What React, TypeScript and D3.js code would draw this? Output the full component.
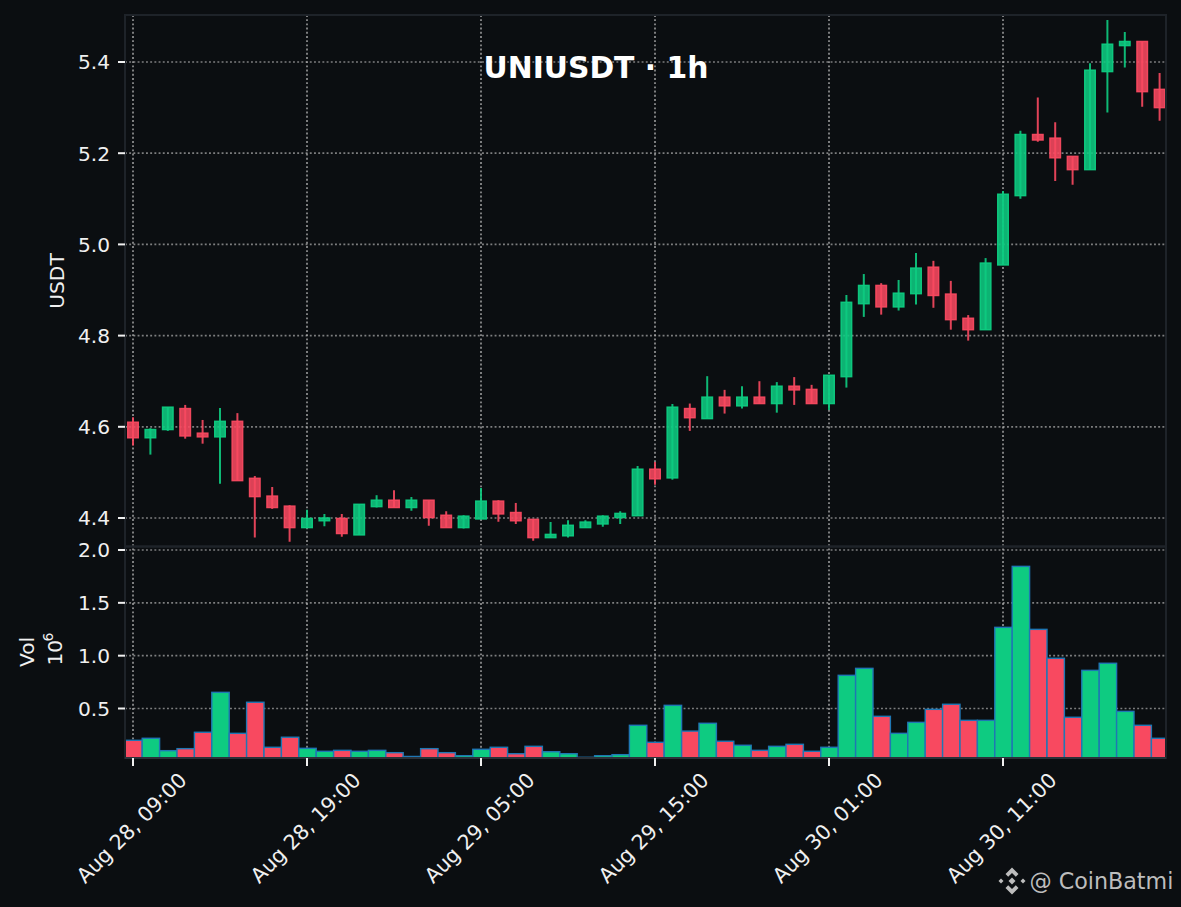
import React from 'react';
import * as d3 from 'd3';

const opens = [4.61,4.576,4.594,4.64,4.586,4.578,4.612,4.487,4.448,4.426,4.379,4.394,4.399,4.363,4.425,4.439,4.423,4.439,4.406,4.379,4.398,4.437,4.412,4.397,4.357,4.361,4.379,4.387,4.401,4.405,4.507,4.488,4.64,4.618,4.665,4.646,4.665,4.651,4.689,4.682,4.651,4.71,4.87,4.91,4.863,4.892,4.95,4.891,4.838,4.813,4.955,5.107,5.241,5.233,5.193,5.164,5.379,5.436,5.445,5.34];
const closes = [4.576,4.594,4.643,4.58,4.578,4.612,4.482,4.447,4.423,4.379,4.399,4.4,4.366,4.43,4.439,4.423,4.439,4.401,4.379,4.404,4.437,4.409,4.394,4.357,4.364,4.384,4.391,4.404,4.41,4.507,4.486,4.643,4.62,4.665,4.646,4.665,4.651,4.689,4.681,4.651,4.713,4.873,4.91,4.863,4.893,4.948,4.888,4.835,4.813,4.959,5.11,5.241,5.229,5.19,5.164,5.382,5.439,5.445,5.335,5.3];
const highs = [4.621,4.597,4.643,4.648,4.615,4.641,4.63,4.492,4.468,4.428,4.418,4.409,4.409,4.43,4.45,4.461,4.446,4.439,4.415,4.406,4.466,4.439,4.433,4.397,4.391,4.395,4.395,4.406,4.415,4.514,4.523,4.65,4.651,4.711,4.681,4.689,4.7,4.698,4.709,4.692,4.713,4.889,4.935,4.915,4.922,4.981,4.964,4.92,4.845,4.97,5.117,5.249,5.322,5.268,5.193,5.397,5.492,5.466,5.445,5.376];
const lows = [4.559,4.539,4.591,4.574,4.563,4.475,4.482,4.357,4.42,4.348,4.379,4.382,4.359,4.363,4.423,4.423,4.416,4.383,4.379,4.377,4.398,4.392,4.387,4.35,4.357,4.357,4.379,4.381,4.387,4.405,4.473,4.484,4.591,4.618,4.629,4.64,4.651,4.631,4.648,4.651,4.637,4.686,4.841,4.846,4.855,4.868,4.861,4.813,4.789,4.813,4.955,5.1,5.225,5.139,5.131,5.164,5.289,5.388,5.302,5.271];
const volumes = [0.199,0.218,0.101,0.12,0.275,0.653,0.265,0.559,0.133,0.228,0.123,0.095,0.104,0.095,0.104,0.082,0.046,0.12,0.082,0.053,0.114,0.133,0.072,0.142,0.091,0.072,0.038,0.053,0.063,0.341,0.18,0.53,0.286,0.36,0.19,0.152,0.104,0.142,0.161,0.095,0.133,0.814,0.88,0.426,0.265,0.369,0.492,0.54,0.388,0.388,1.268,1.845,1.249,0.975,0.417,0.861,0.928,0.473,0.341,0.218];
const priceTicks = [4.4,4.6,4.8,5.0,5.2,5.4];
const volTicks = [0.5,1.0,1.5,2.0];
const dateTicks = [0,10,20,30,40,50];
const dateLabels = ['Aug 28, 09:00','Aug 28, 19:00','Aug 29, 05:00','Aug 29, 15:00','Aug 30, 01:00','Aug 30, 11:00'];
const title = 'UNIUSDT · 1h';

const BG = '#0b0e11';
const SPINE = '#1e2329';
const UP = '#0ecb81';
const DOWN = '#f84960';
const FONT = '"DejaVu Sans", sans-serif';
const L = 125, R = 1166, T = 15, PB = 546.5, VB = 758;
const TICK_FS = 20.2;

export default function App() {
  const x = d3.scaleLinear().domain([0, 50]).range([133, 1003]);
  const y = d3.scaleLinear().domain([4.4, 5.4]).range([518, 62]);
  const v = d3.scaleLinear().domain([0.5, 2.0]).range([708.5, 550]);
  const barW = x(1) - x(0);
  const candleW = 10.5;
  const idx = d3.range(opens.length);
  return (
    <svg width={1181} height={907} viewBox="0 0 1181 907" style={{ position: 'absolute', left: 0, top: 0, display: 'block' }} fontFamily={FONT}>
      <defs>
        <clipPath id="pc"><rect x={L} y={T} width={R - L} height={PB - T} /></clipPath>
        <clipPath id="vc"><rect x={L} y={PB} width={R - L} height={VB - PB} /></clipPath>
      </defs>
      <rect width={1181} height={907} fill={BG} />

      {/* grid */}
      <g stroke="#b4b4b4" strokeOpacity={0.68} strokeWidth={1.7} strokeDasharray="1.9 2.3" fill="none">
        {priceTicks.map(t => <line key={t} x1={L} x2={R} y1={y(t)} y2={y(t)} />)}
        {volTicks.map(t => <line key={t} x1={L} x2={R} y1={v(t)} y2={v(t)} />)}
        {dateTicks.map(t => <line key={t} x1={x(t)} x2={x(t)} y1={T} y2={VB} strokeWidth={2} />)}
      </g>

      {/* candles */}
      <g clipPath="url(#pc)">
        {idx.map(i => {
          const c = closes[i] >= opens[i] ? UP : DOWN;
          const top = y(Math.max(opens[i], closes[i]));
          const bot = y(Math.min(opens[i], closes[i]));
          return (
            <g key={i}>
              <line x1={x(i)} x2={x(i)} y1={y(highs[i])} y2={y(lows[i])} stroke={c} strokeOpacity={0.9} strokeWidth={2} />
              <rect x={x(i) - candleW / 2} y={top} width={candleW} height={Math.max(bot - top, 1)} fill={c} fillOpacity={0.88} stroke={c} strokeOpacity={0.95} strokeWidth={1.5} />
            </g>
          );
        })}
      </g>

      {/* volume */}
      <g clipPath="url(#vc)">
        {idx.map(i => (
          <rect key={i} x={x(i) + 0.5 - barW / 2} y={v(volumes[i])} width={barW} height={VB - v(volumes[i])}
            fill={closes[i] >= opens[i] ? UP : DOWN} stroke="#1f77b4" strokeWidth={1.4} />
        ))}
      </g>

      {/* spines */}
      <g fill="none" stroke={SPINE} strokeWidth={2}>
        <rect x={L} y={T} width={R - L} height={PB - T} />
        <rect x={L} y={PB} width={R - L} height={VB - PB} />
      </g>
      <line x1={L} x2={R} y1={VB} y2={VB} stroke="#2b3139" strokeWidth={2} />

      {/* ticks + labels */}
      <g fill="#f0f0f0" fontSize={TICK_FS}>
        {priceTicks.map(t => (
          <g key={t}>
            <line x1={118} x2={125} y1={y(t)} y2={y(t)} stroke="#f0f0f0" strokeWidth={2} />
            <text x={110} y={y(t) + 7.4} textAnchor="end">{d3.format('.1f')(t)}</text>
          </g>
        ))}
        {volTicks.map(t => (
          <g key={t}>
            <line x1={118} x2={125} y1={v(t)} y2={v(t)} stroke="#f0f0f0" strokeWidth={2} />
            <text x={110} y={v(t) + 7.4} textAnchor="end">{d3.format('.1f')(t)}</text>
          </g>
        ))}
        {dateTicks.map((t, i) => (
          <g key={t}>
            <line x1={x(t)} x2={x(t)} y1={VB} y2={766} stroke="#f0f0f0" strokeWidth={2} />
            <text transform={`translate(${x(t) + 55},${VB + 23.5}) rotate(-45)`} textAnchor="end" fontSize={20.6}>{dateLabels[i]}</text>
          </g>
        ))}
        <text transform="translate(64,281) rotate(-90)" textAnchor="middle">USDT</text>
        <text transform="translate(33.5,652) rotate(-90)" textAnchor="middle">Vol</text>
        <text transform="translate(62,665.5) rotate(-90)">10</text>
        <text transform="translate(53,641.5) rotate(-90)" fontSize={14}>6</text>
      </g>

      <text x={596} y={78} textAnchor="middle" fill="#ffffff" fontWeight="bold" fontSize={29.8}>{title}</text>

      {/* watermark */}
      <g fill="#bdbdbd">
        <polygon points="1012,867.5 1018.5,874 1015.8,876.7 1012,872.9 1008.2,876.7 1005.5,874" />
        <polygon points="1012,894.5 1018.5,888 1015.8,885.3 1012,889.1 1008.2,885.3 1005.5,888" />
        <polygon points="1012,877.5 1015.5,881 1012,884.5 1008.5,881" />
        <polygon points="1001,878.5 1003.5,881 1001,883.5 998.5,881" />
        <polygon points="1023,878.5 1025.5,881 1023,883.5 1020.5,881" />
        <text x={1029.5} y={889} fontSize={22.2} fill="#bdbdbd">@ CoinBatmi</text>
      </g>
    </svg>
  );
}
